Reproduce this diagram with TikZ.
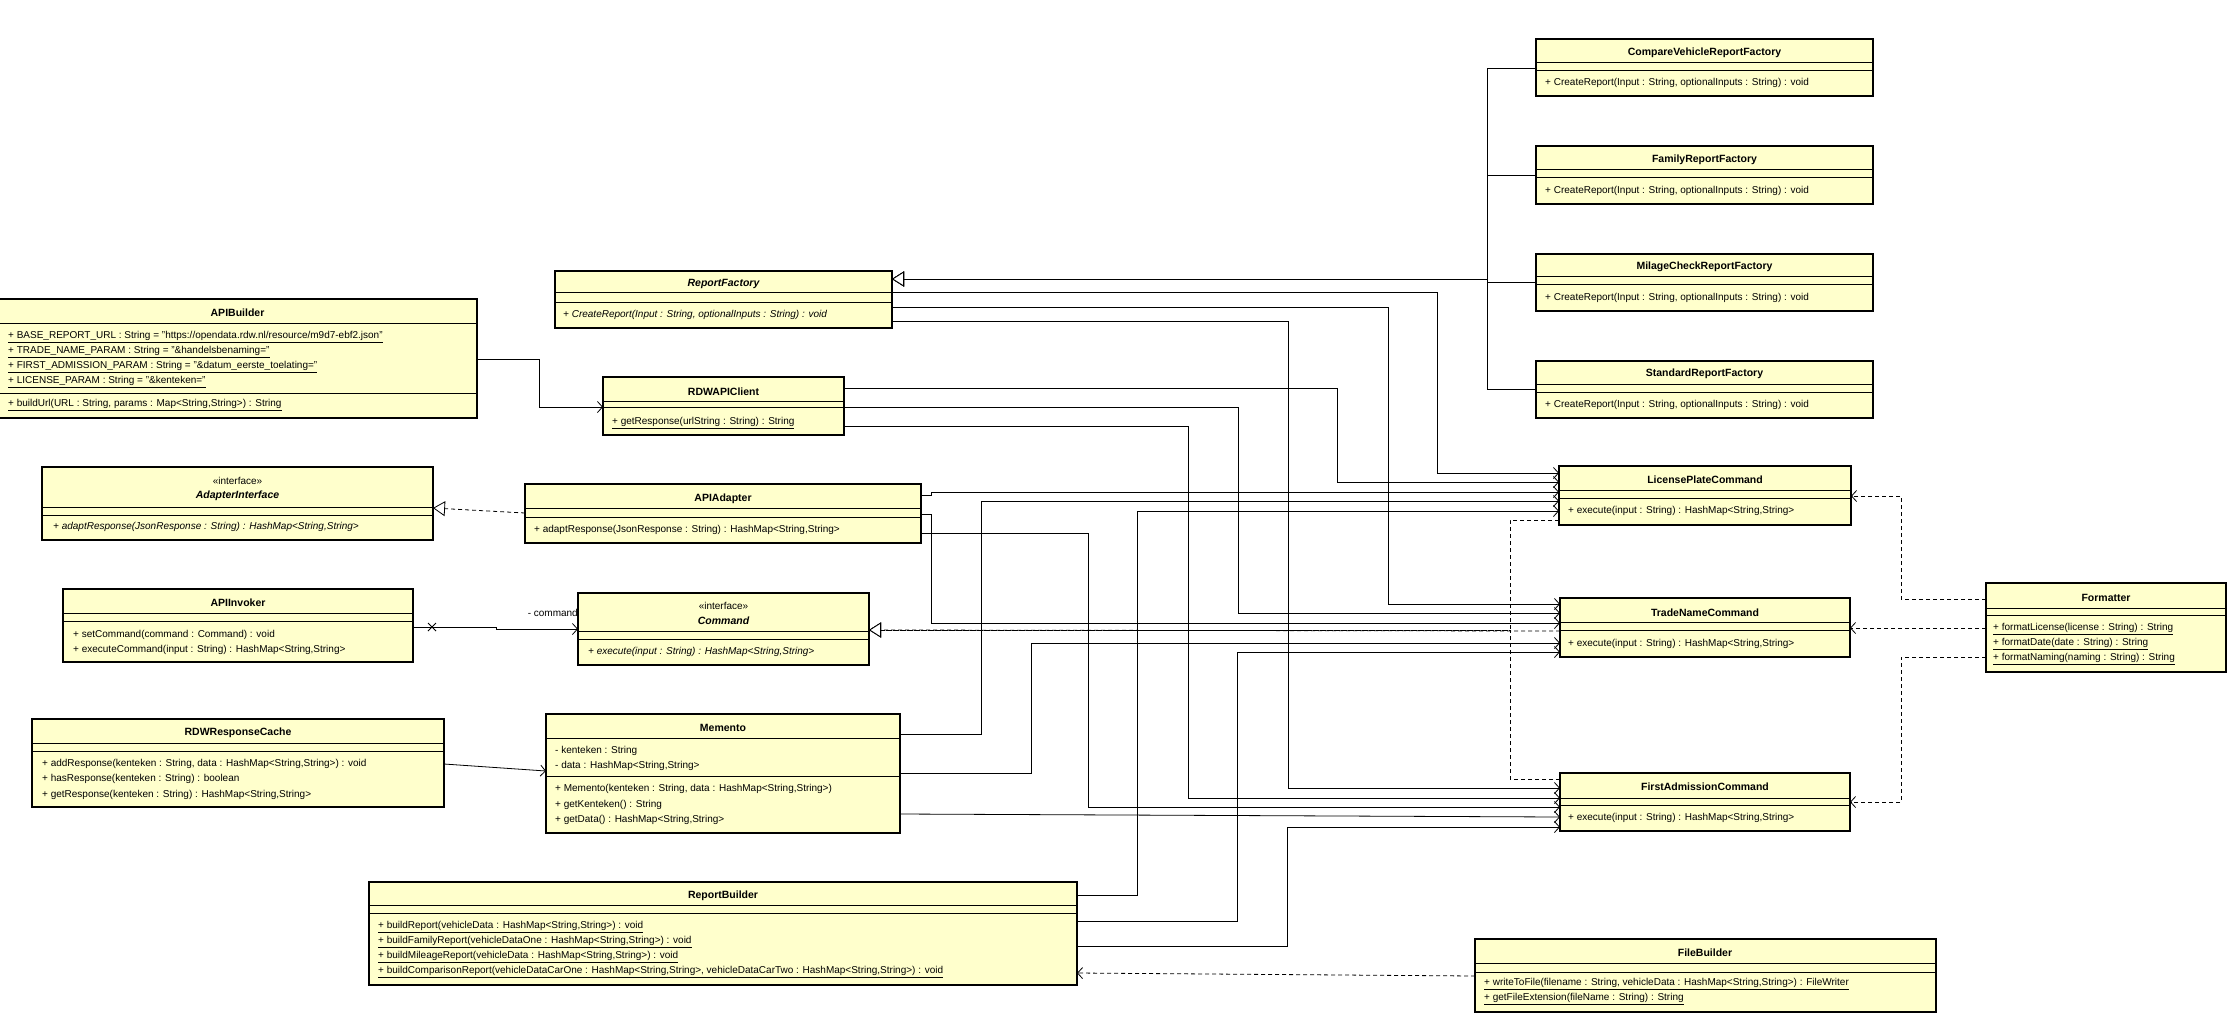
\documentclass[tikz,border=0pt]{standalone}
\usepackage{fontspec}
\defaultfontfeatures{}
\setmainfont{Liberation Sans}
\usetikzlibrary{arrows.meta}
\definecolor{boxfill}{RGB}{255,255,204}
\tikzset{
 box/.style={draw,line width=1.6pt,fill=boxfill,inner sep=0,outer sep=0},
 sep/.style={line width=0.8pt},
 t/.style={font=\fontsize{10}{12}\selectfont,inner sep=0,anchor=west},
 tt/.style={font=\bfseries\fontsize{10.5}{12}\selectfont,inner sep=0},
 ln/.style={line width=0.8pt},
 assoc/.style={ln,-{Straight Barb[length=5pt,width=11pt]}},
 dep/.style={ln,dashed,dash pattern=on 4pt off 3pt,-{Straight Barb[length=5pt,width=11pt]}},
 real/.style={ln,dashed,dash pattern=on 4pt off 3pt,-{Triangle[open,fill=white,length=12pt,width=15pt]}},
 gen/.style={ln,-{Triangle[open,fill=white,length=12pt,width=15pt]}},
}
\newcommand\ubox[6]{%
 \node[box,minimum width={(#4)-(#2)},minimum height={(#5)-(#3)}] (#1) at ({((#2)+(#4))/2},{((#3)+(#5))/2}) {};
 \foreach \s in {#6} \draw[sep] (#2,\s) -- (#4,\s);}
\begin{document}
\begin{tikzpicture}[x=1pt,y=-1pt]
\useasboundingbox (0,0) rectangle (2229,1023);
% ---------- boxes ----------
\ubox{cmp}{1536}{39}{1873}{96}{62,70}
\node[tt] (cmp-t) at (1704.5,53) {CompareVehicleReportFactory};
\node[t] (cmp-m) at (1545,83) {+ CreateReport(Input : String, optionalInputs : String) : void};
\ubox{fam}{1536}{146}{1873}{204}{169,177}
\node[tt] (fam-t) at (1704.5,160) {FamilyReportFactory};
\node[t] (fam-m) at (1545,191) {+ CreateReport(Input : String, optionalInputs : String) : void};
\ubox{mil}{1536}{254}{1873}{311}{276,284}
\node[tt] (mil-t) at (1704.5,267) {MilageCheckReportFactory};
\node[t] (mil-m) at (1545,298) {+ CreateReport(Input : String, optionalInputs : String) : void};
\ubox{std}{1536}{361}{1873}{418}{384,392}
\node[tt] (std-t) at (1704.5,374) {StandardReportFactory};
\node[t] (std-m) at (1545,405) {+ CreateReport(Input : String, optionalInputs : String) : void};

\ubox{rf}{555}{271}{892}{328}{292,302}
\node[tt,font=\bfseries\itshape\fontsize{10.5}{12}\selectfont] (rf-t) at (723.5,284) {ReportFactory};
\node[t,font=\itshape\fontsize{10}{12}\selectfont] (rf-m) at (563,315) {+ CreateReport(Input : String, optionalInputs : String) : void};

\ubox{apib}{-2}{299}{477}{418}{323,393}
\node[tt] (apib-t) at (237.5,313) {APIBuilder};
\node[t] (apib-a1) at (8,337) {\underline{+ BASE\_REPORT\_URL : String = "https://opendata.rdw.nl/resource/m9d7-ebf2.json"}};
\node[t] (apib-a2) at (8,352) {\underline{+ TRADE\_NAME\_PARAM : String = "\&handelsbenaming="}};
\node[t] (apib-a3) at (8,367) {\underline{+ FIRST\_ADMISSION\_PARAM : String = "\&datum\_eerste\_toelating="}};
\node[t] (apib-a4) at (8,382) {\underline{+ LICENSE\_PARAM : String = "\&kenteken="}};
\node[t] (apib-m) at (8,405) {\underline{+ buildUrl(URL : String, params : Map<String,String>) : String}};

\ubox{cli}{603}{377}{844}{435}{401,407}
\node[tt] (cli-t) at (723.5,392) {RDWAPIClient};
\node[t] (cli-m) at (612,423) {\underline{+ getResponse(urlString : String) : String}};

\ubox{ai}{42}{467}{433}{540}{507,515}
\node[t,anchor=center] (ai-s) at (237.5,481) {<<interface>>};
\node[tt,font=\bfseries\itshape\fontsize{10.5}{12}\selectfont] (ai-t) at (237.5,496) {AdapterInterface};
\node[t,font=\itshape\fontsize{10}{12}\selectfont] (ai-m) at (53,527) {+ adaptResponse(JsonResponse : String) : HashMap<String,String>};

\ubox{ada}{525}{484}{921}{543}{508,517}
\node[tt] (ada-t) at (723,499) {APIAdapter};
\node[t] (ada-m) at (534,530) {+ adaptResponse(JsonResponse : String) : HashMap<String,String>};

\ubox{inv}{63}{589}{413}{662}{613,621}
\node[tt] (inv-t) at (238,603) {APIInvoker};
\node[t] (inv-m1) at (73,635) {+ setCommand(command : Command) : void};
\node[t] (inv-m2) at (73,650) {+ executeCommand(input : String) : HashMap<String,String>};

\ubox{cmd}{578}{593}{869}{665}{631,639}
\node[t,anchor=center] (cmd-s) at (723.5,606) {<<interface>>};
\node[tt,font=\bfseries\itshape\fontsize{10.5}{12}\selectfont] (cmd-t) at (723.5,621) {Command};
\node[t,font=\itshape\fontsize{10}{12}\selectfont] (cmd-m) at (588,652) {+ execute(input : String) : HashMap<String,String>};

\ubox{cache}{32}{719}{444}{807}{743,751}
\node[tt] (cache-t) at (238,733) {RDWResponseCache};
\node[t] (cache-m1) at (42,764) {+ addResponse(kenteken : String, data : HashMap<String,String>) : void};
\node[t] (cache-m2) at (42,779) {+ hasResponse(kenteken : String) : boolean};
\node[t] (cache-m3) at (42,795) {+ getResponse(kenteken : String) : HashMap<String,String>};

\ubox{mem}{546}{714}{900}{833}{738,776}
\node[tt] (mem-t) at (723,728) {Memento};
\node[t] (mem-a1) at (555,751) {- kenteken : String};
\node[t] (mem-a2) at (555,766) {- data : HashMap<String,String>};
\node[t] (mem-m1) at (555,789) {+ Memento(kenteken : String, data : HashMap<String,String>)};
\node[t] (mem-m2) at (555,805) {+ getKenteken() : String};
\node[t] (mem-m3) at (555,820) {+ getData() : HashMap<String,String>};

\ubox{rb}{369}{882}{1077}{985}{905,913}
\node[tt] (rb-t) at (723,896) {ReportBuilder};
\node[t] (rb-m1) at (378,927) {\underline{+ buildReport(vehicleData : HashMap<String,String>) : void}};
\node[t] (rb-m2) at (378,942) {\underline{+ buildFamilyReport(vehicleDataOne : HashMap<String,String>) : void}};
\node[t] (rb-m3) at (378,957) {\underline{+ buildMileageReport(vehicleData : HashMap<String,String>) : void}};
\node[t] (rb-m4) at (378,972) {\underline{+ buildComparisonReport(vehicleDataCarOne : HashMap<String,String>, vehicleDataCarTwo : HashMap<String,String>) : void}};

\ubox{lpc}{1559}{466}{1851}{525}{490,498}
\node[tt] (lpc-t) at (1705,480) {LicensePlateCommand};
\node[t] (lpc-m) at (1568,511) {+ execute(input : String) : HashMap<String,String>};
\ubox{tnc}{1560}{598}{1850}{657}{622,630}
\node[tt] (tnc-t) at (1705,613) {TradeNameCommand};
\node[t] (tnc-m) at (1568,644) {+ execute(input : String) : HashMap<String,String>};
\ubox{fac}{1560}{773}{1850}{831}{798,805}
\node[tt] (fac-t) at (1705,787) {FirstAdmissionCommand};
\node[t] (fac-m) at (1568,818) {+ execute(input : String) : HashMap<String,String>};

\ubox{fmt}{1986}{583}{2226}{672}{608,615}
\node[tt] (fmt-t) at (2106,598) {Formatter};
\node[t] (fmt-m1) at (1993,629) {\underline{+ formatLicense(license : String) : String}};
\node[t] (fmt-m2) at (1993,644) {\underline{+ formatDate(date : String) : String}};
\node[t] (fmt-m3) at (1993,659) {\underline{+ formatNaming(naming : String) : String}};

\ubox{fb}{1475}{939}{1936}{1012}{963,972}
\node[tt] (fb-t) at (1705,953) {FileBuilder};
\node[t] (fb-m1) at (1484,984) {\underline{+ writeToFile(filename : String, vehicleData : HashMap<String,String>) : FileWriter}};
\node[t] (fb-m2) at (1484,999) {\underline{+ getFileExtension(fileName : String) : String}};

% ---------- generalisation ----------
\foreach \c/\y in {cmp/68,fam/175,mil/282,std/389}
  \draw[gen] (\c.west|-0,\y) -- (1487,\y) -- (1487,279) -- (rf.east|-0,279);
% ---------- realisation ----------
\draw[real] (ada.west|-0,513) -- (ai.east|-0,508);
\draw[real] (tnc.west|-0,631) -- (cmd.east|-0,630);
\draw[real] (lpc.west|-0,520) -- (1510,520) -- (1510,630) -- (cmd.east|-0,630);
\draw[real] (fac.west|-0,779) -- (1510,779) -- (1510,630) -- (cmd.east|-0,630);
% ---------- dependencies ----------
\draw[dep] (fmt.west|-0,628) -- (tnc.east|-0,628);
\draw[dep] (fmt.west|-0,599) -- (1901,599) -- (1901,496) -- (lpc.east|-0,496);
\draw[dep] (fmt.west|-0,657) -- (1901,657) -- (1901,802) -- (fac.east|-0,802);
\draw[dep] (fb.west|-0,976) -- (rb.east|-0,973);
% ---------- associations ----------
\draw[assoc] (apib.east|-0,359) -- (539,359) -- (539,407) -- (cli.west|-0,407);
\draw[assoc] (cache.east|-0,764) -- (mem.west|-0,771);
\draw[assoc] (inv.east|-0,627) -- (496,627) -- (496,629) -- (cmd.west|-0,629);
\draw[ln] (428,623) -- (436,631) (428,631) -- (436,623);
\node[t,anchor=east] (cmdlbl) at (578,613) {- command};
% ReportFactory
\draw[assoc] (rf.east|-0,292) -- (1437,292) -- (1437,473) -- (lpc.west|-0,473);
\draw[assoc] (rf.east|-0,307) -- (1388,307) -- (1388,604) -- (tnc.west|-0,604);
\draw[assoc] (rf.east|-0,321) -- (1288,321) -- (1288,788) -- (fac.west|-0,788);
% RDWAPIClient
\draw[assoc] (cli.east|-0,388) -- (1337,388) -- (1337,482) -- (lpc.west|-0,482);
\draw[assoc] (cli.east|-0,407) -- (1238,407) -- (1238,613) -- (tnc.west|-0,613);
\draw[assoc] (cli.east|-0,426) -- (1188,426) -- (1188,798) -- (fac.west|-0,798);
% APIAdapter
\draw[assoc] (ada.east|-0,495) -- (931,495) -- (931,492) -- (lpc.west|-0,492);
\draw[assoc] (ada.east|-0,514) -- (931,514) -- (931,623) -- (tnc.west|-0,623);
\draw[assoc] (ada.east|-0,533) -- (1088,533) -- (1088,807) -- (fac.west|-0,807);
% Memento
\draw[assoc] (mem.east|-0,734) -- (981,734) -- (981,501) -- (lpc.west|-0,501);
\draw[assoc] (mem.east|-0,773) -- (1031,773) -- (1031,643) -- (tnc.west|-0,643);
\draw[assoc] (mem.east|-0,814) -- (fac.west|-0,817);
% ReportBuilder
\draw[assoc] (rb.east|-0,895) -- (1137,895) -- (1137,511) -- (lpc.west|-0,511);
\draw[assoc] (rb.east|-0,921) -- (1237,921) -- (1237,652) -- (tnc.west|-0,652);
\draw[assoc] (rb.east|-0,946) -- (1287,946) -- (1287,827) -- (fac.west|-0,827);
\end{tikzpicture}
\end{document}
